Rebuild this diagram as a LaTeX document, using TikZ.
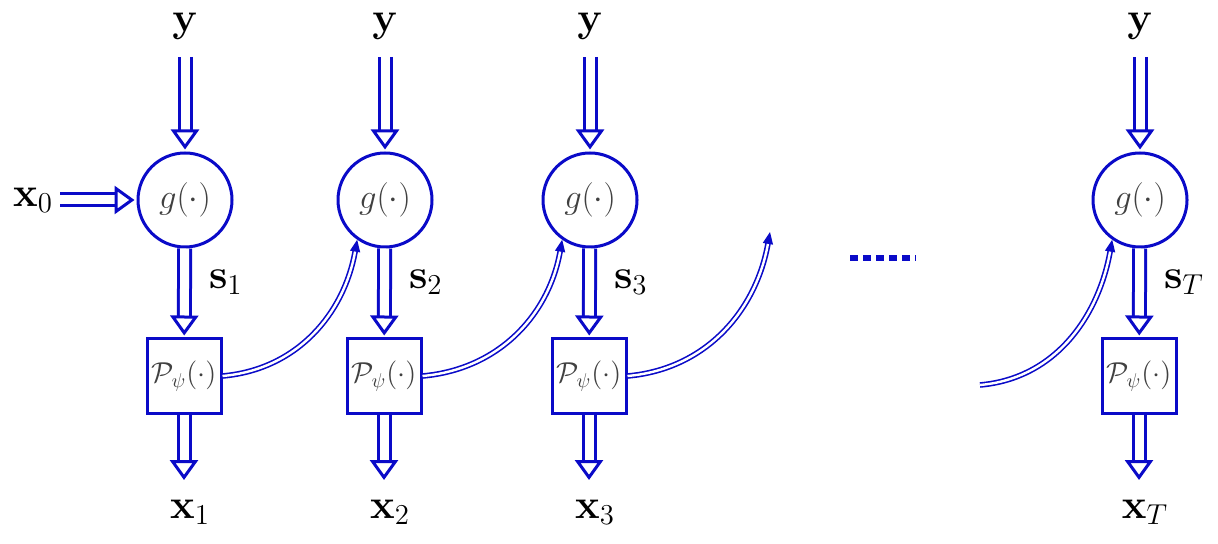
\documentclass[tikz,border=0pt]{standalone}
\usetikzlibrary{arrows.meta}
\definecolor{bl}{RGB}{10,10,200}
\begin{document}
\begin{tikzpicture}[x=0.5pt,y=-0.5pt,
  big/.style={draw=bl,line width=1.5pt,double=white,double distance=4.5pt,
    -{Triangle[open,length=10pt,width=14pt,line width=1.5pt]}, shorten >=1pt},
  thin/.style={draw=bl,line width=0.8pt,double=white,double distance=1.2pt,
    -{Triangle[length=6pt,width=5pt]}},
  circ/.style={circle,draw=bl,line width=1.5pt,minimum size=47pt,inner sep=0pt,text=black!75},
  box/.style={rectangle,draw=bl,line width=1.5pt,minimum size=37pt,inner sep=0pt,text=black!75},
  lab/.style={font=\fontsize{20}{22}\selectfont}]
\useasboundingbox (0,0) rectangle (1218,544);
\foreach \i/\x/\s in {1/185/1,2/385/2,3/590/3,4/1140/T}{
  \node[lab] (y\i) at (\x,26) {$\mathbf{y}$};
  \coordinate (t\i) at (\x,57);
  \node[circ,font=\fontsize{17}{19}\selectfont] (g\i) at (\x,200) {$g(\cdot)$};
  \node[box,font=\fontsize{14.5}{16}\selectfont] (p\i) at (\x-1,376) {$\mathcal{P}_{\psi}(\cdot)$};
  \node[lab] (x\i) at (\x+5,512) {$\mathbf{x}_{\s}$};
  \coordinate (b\i) at (\x-1,482);
  \node[lab,anchor=west] (s\i) at (\x+17,282) {$\mathbf{s}_{\s}$};
  \draw[big] (t\i) -- (g\i);
  \draw[big] (g\i) -- (p\i);
  \draw[big] (p\i) -- (b\i);
}
\node[lab,anchor=east] (x0) at (60,200) {$\mathbf{x}_0$};
\draw[big] (x0.east |- g1) -- (g1.west);
\draw[thin] (p1.east) to[out=5,in=-100] (g2.-125);
\draw[thin] (p2.east) to[out=5,in=-100] (g3.-125);
\coordinate (e3) at (770,232);
\draw[thin] (p3.east) to[out=5,in=-100] (e3);
\coordinate (s4) at (980,385);
\draw[thin] (s4) to[out=5,in=-100] (g4.-125);
\coordinate (d1) at (850,258); \coordinate (d2) at (916,258);
\draw[bl,line width=3pt,dash pattern=on 4pt off 2.5pt] (d1) -- (d2);
\end{tikzpicture}
\end{document}
